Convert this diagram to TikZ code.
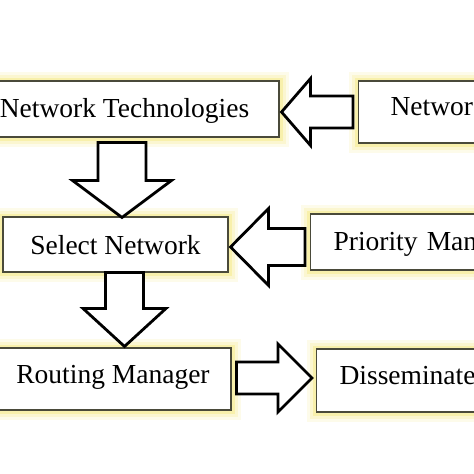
\documentclass[tikz,border=0pt]{standalone}
\usepackage{fontspec}
\setmainfont{Liberation Serif}
\usetikzlibrary{calc}

\definecolor{boxline}{HTML}{4A4A3A}
\definecolor{glow}{HTML}{F6EC96}

% block arrow: tail, tip, shaft half width, head half width, head length
\newcommand{\blockarrow}[5]{%
  \coordinate (ba-base) at ($(#2)!#5!(#1)$);
  \draw[blockline] ($(#1)!#3!90:(#2)$) -- ($(ba-base)!#3!90:(#2)$)
    -- ($(ba-base)!#4!90:(#2)$) -- (#2) -- ($(ba-base)!#4!-90:(#2)$)
    -- ($(ba-base)!#3!-90:(#2)$) -- ($(#1)!#3!-90:(#2)$) -- cycle;
}

\tikzset{
  box/.style={draw=boxline, line width=1.1pt, fill=white, inner sep=0pt,
    font=\fontsize{27.5}{33}\selectfont,
    preaction={draw=glow!20, line width=19pt},
    preaction={draw=glow!45, line width=13pt},
    preaction={draw=glow!80, line width=7pt}},
  leftbox/.style={box, text width=200pt, align=left, anchor=west, inner xsep=#1},
  blockline/.style={draw=black, line width=2.8pt, fill=white, line join=miter}
}

\begin{document}
\begin{tikzpicture}[x=1pt, y=-1pt]
    \useasboundingbox (0,0) rectangle (474,474);
    \clip (0,0) rectangle (474,474);
    \fill[white] (0,0) rectangle (474,474);

    % boxes
    \node[box, minimum width=309pt, minimum height=56pt, text height=23pt, text depth=7pt]
        (nettech) at (124.5,109) {Network Technologies};
    \node[leftbox=32pt, minimum height=62pt, text height=18pt, text depth=12pt]
        (netmon) at (358,112) {Networ};
    \node[box, minimum width=225pt, minimum height=55pt, text height=24.5pt, text depth=5.5pt]
        (selnet) at (115.5,244.5) {Select Network};
    \node[leftbox=23pt, minimum height=56pt, text height=23pt, text depth=7pt]
        (priority) at (310,242) {Priority Man};
    \node[box, minimum width=236pt, minimum height=62pt, text height=19pt, text depth=11pt]
        (routing) at (113,379) {Routing Manager};
    \node[leftbox=23pt, minimum height=63pt, text height=18.5pt, text depth=11.5pt]
        (dissem) at (316,380.5) {Disseminate};

    % arrows
    \blockarrow{$(netmon.west)+(-5,0)$}{$(nettech.east)+(2,3)$}{16pt}{33.5pt}{29pt}
    \blockarrow{$(nettech.south)+(-2.5,5)$}{$(selnet.north)+(6.5,1)$}{24pt}{49.5pt}{37pt}
    \blockarrow{$(priority.west)+(-5,5)$}{$(selnet.east)+(2,2.5)$}{18.5pt}{38.5pt}{38pt}
    \blockarrow{$(selnet.south)+(9,0)$}{$(routing.north)+(11.5,-1)$}{19pt}{41.5pt}{38pt}
    \blockarrow{$(routing.east)+(5,-1)$}{$(dissem.west)+(-4,-2.5)$}{16pt}{34pt}{34pt}
\end{tikzpicture}
\end{document}
